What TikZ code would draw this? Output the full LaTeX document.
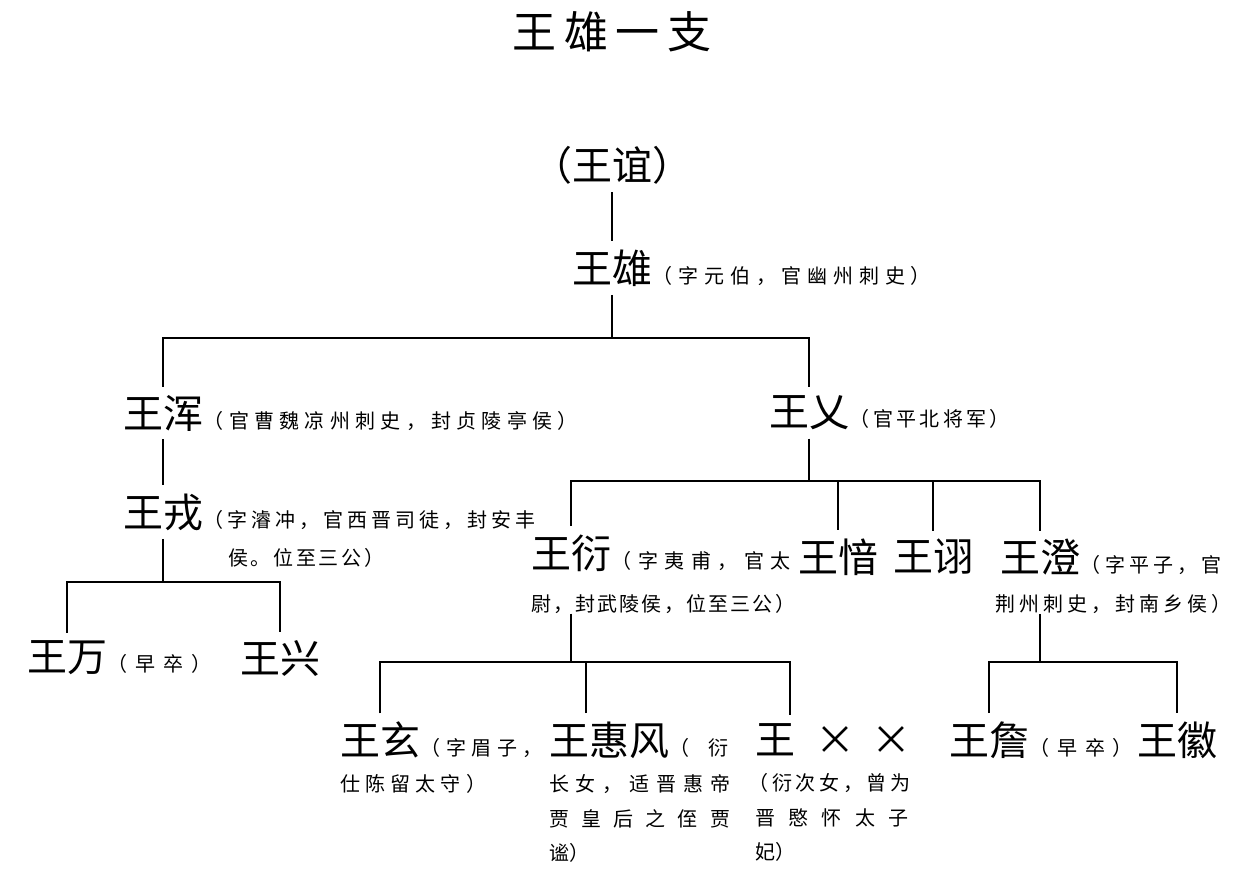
\documentclass[tikz,border=0pt]{standalone}
\usepackage{fontspec}
\setmainfont{Noto Sans CJK SC}
\usetikzlibrary{positioning}

% spread the characters of a line over a given width
\def\spreadchars#1#2{#1\ifx#2\relax\else\hfil\expandafter\spreadchars\expandafter#2\fi}
\newcommand\spread[2]{\makebox[#1][s]{\spreadchars#2\relax}}

\begin{document}
\begin{tikzpicture}[x=0.5pt,y=-0.5pt,
  person/.style={font=\fontsize{20pt}{24pt}\selectfont,inner xsep=0pt,inner ysep=4pt},
  remark/.style={font=\fontsize{10pt}{12pt}\selectfont,inner sep=0pt},
  link/.style={line width=1pt}]
\useasboundingbox (0,0) rectangle (1252,890);
\node[font=\fontsize{22pt}{26pt}\selectfont] (title) at (612,32) {\spread{99.5pt}{王雄一支}};

\node[person] (yi) at (612,165) {（王谊）};
\node[person] (xiong) at (612,268) {王雄};
\node[remark, base right=0pt of xiong] (xiongN) {\spread{139pt}{（字元伯，官幽州刺史）}};

\node[person] (hun) at (163,413) {王浑};
\node[remark, base right=0pt of hun] (hunN) {\spread{187pt}{（官曹魏凉州刺史，封贞陵亭侯）}};
\node[person] (yi2) at (809,413) {王乂};
\node[remark, base right=0pt of yi2] (yi2N) {\spread{80pt}{（官平北将军）}};

\node[person] (rong) at (163,512) {王戎};
\node[remark, base right=0pt of rong] (rongN) {\spread{166pt}{（字濬冲，官西晋司徒，封安丰}};
\node[remark, anchor=base west] (rongM) at ([shift={(105,38)}]rong.base west) {\spread{78pt}{侯。位至三公）}};

\node[person] (yan) at (571,553) {王衍};
\node[remark, base right=0pt of yan] (yanN) {\spread{89.5pt}{（字夷甫，官太}};
\node[remark, anchor=base west] (yanM) at ([shift={(0,43)}]yan.base west) {\spread{132pt}{尉，封武陵侯，位至三公）}};
\node[person] (yin) at (838,557) {王愔};
\node[person] (xu) at (933,557) {王诩};
\node[person] (cheng) at (1040,557) {王澄};
\node[remark, base right=0pt of cheng] (chengN) {\spread{70.5pt}{（字平子，官}};
\node[remark, anchor=base west] (chengM) at ([shift={(-5,39)}]cheng.base west) {\spread{118pt}{荆州刺史，封南乡侯）}};

\node[person] (wan) at (67,658) {王万};
\node[remark, base right=0pt of wan] (wanN) {\spread{52pt}{（早卒）}};
\node[person] (xing) at (280,658) {王兴};

\node[person] (xuan) at (380,740) {王玄};
\node[remark, base right=0pt of xuan] (xuanN) {\spread{61pt}{（字眉子，}};
\node[remark, anchor=base west] (xuanM) at ([shift={(0,36)}]xuan.base west) {\spread{73pt}{仕陈留太守）}};
\node[person] (hui) at (609,740) {王惠风};
\node[remark, base right=0pt of hui] (huiN) {\spread{29.5pt}{（衍}};
\node[remark, anchor=base west] (huiM) at ([shift={(0,36)}]hui.base west) {\spread{90.5pt}{长女，适晋惠帝}};
\node[remark, anchor=base west] (huiL) at ([shift={(0,71)}]hui.base west) {\spread{90.5pt}{贾皇后之侄贾}};
\node[remark, anchor=base west] (huiK) at ([shift={(0,105)}]hui.base west) {谧）};
\node[person, anchor=west] (wxx) at (755,740) {王\kern10pt\makebox[20pt]{×}\kern8pt\makebox[20pt]{×}};
\node[remark, anchor=base west] (wxxN) at ([shift={(-7,36)}]wxx.base west) {\spread{81pt}{（衍次女，曾为}};
\node[remark, anchor=base west] (wxxM) at ([shift={(0,71)}]wxx.base west) {\spread{76.5pt}{晋愍怀太子}};
\node[remark, anchor=base west] (wxxL) at ([shift={(0,105)}]wxx.base west) {妃）};
\node[person] (zhan) at (989,740) {王詹};
\node[remark, base right=0pt of zhan] (zhanN) {\spread{51.5pt}{（早卒）}};
\node[person] (hui2) at (1177,740) {王徽};

% branch points
\coordinate (b1) at (612,338);
\coordinate (b2) at (809,481);
\coordinate (b3) at (163,582);
\coordinate (b4) at (571,662);
\coordinate (b5) at (1040,662);

\draw[link] (yi) -- (xiong);
\draw[link] (xiong) -- (b1);
\draw[link] (hun) |- (b1) -| (yi2);
\draw[link] (hun) -- (rong);
\draw[link] (rong) -- (b3);
\draw[link] (wan) |- (b3) -| (xing);
\draw[link] (yi2) -- (b2);
\draw[link] (yan) |- (b2) -| (cheng);
\draw[link] (b2 -| yin) -- (yin);
\draw[link] (b2 -| xu) -- (xu);
\draw[link] (yan |- yanM.south) -- (b4);
\draw[link] (xuan) |- (b4) -| ([xshift=17.5pt]wxx.north west);
\draw[link] ([xshift=18.5pt]hui.north west) |- (b4);
\draw[link] (cheng |- chengM.south) -- (b5);
\draw[link] (zhan) |- (b5) -| (hui2);
\end{tikzpicture}
\end{document}
